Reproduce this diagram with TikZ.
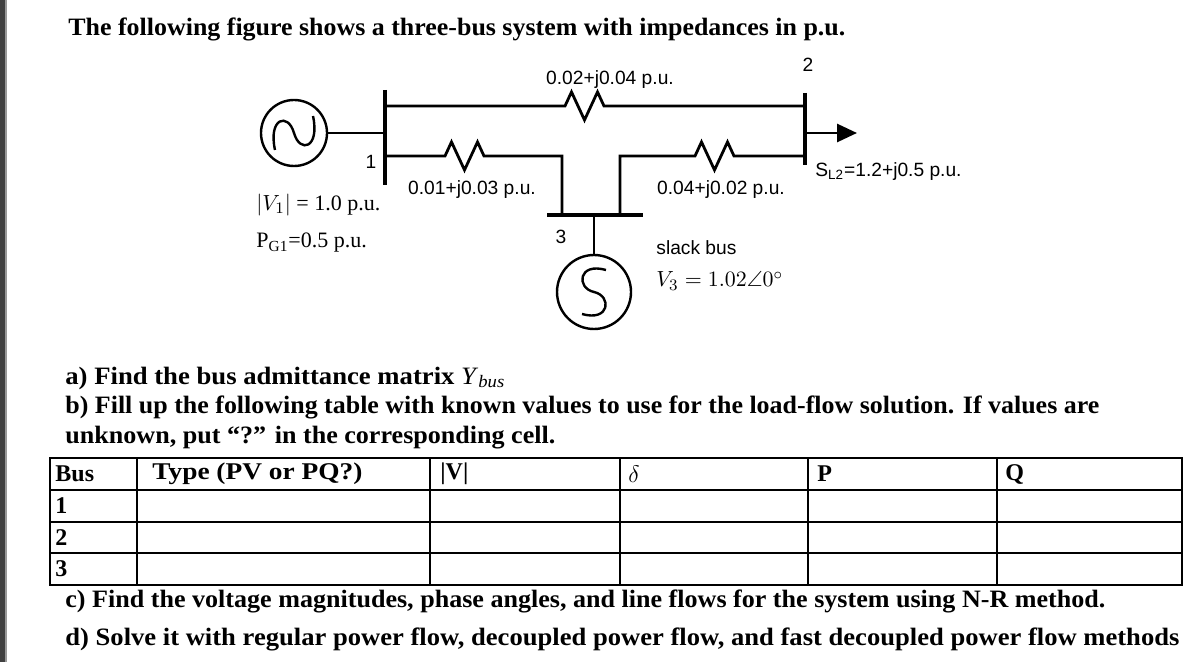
\documentclass[tikz,border=0pt]{standalone}
\usepackage{fontspec}
\usepackage{amssymb}
\setmainfont{Liberation Serif}
\setsansfont{Liberation Sans}
\usetikzlibrary{decorations.pathmorphing,arrows.meta}
\newcommand{\fitw}[2]{\resizebox{#1}{\height}{#2}}
\begin{document}
\begin{tikzpicture}[x=0.5pt,y=-0.5pt,
  wire/.style={line width=1.4pt},
  busbar/.style={line width=1.9pt},
  res/.style={decorate,decoration={zigzag,segment length=13,amplitude=7}},
  lbl/.style={font=\sffamily\fontsize{9.6}{11}\selectfont,inner sep=0pt},
  srf/.style={font=\fontsize{11}{13}\selectfont,inner sep=0pt},
  bt/.style={font=\bfseries\fontsize{12.5}{14}\selectfont,inner sep=0pt,anchor=base west},
  tb/.style={font=\bfseries\fontsize{12}{14}\selectfont,inner sep=0pt,anchor=west}]
\useasboundingbox (0,0) rectangle (1197,662);
\fill[white] (0,0) rectangle (1197,662);
\fill[black!75] (0,0) rectangle (5,662);
\fill[black!40] (5,0) rectangle (7,662);
% title
\node[bt] (title) at (68,36) {\fitw{388.5pt}{The following figure shows a three-bus system with impedances in p.u.}};
% generator 1
\node[draw,circle,line width=1.2pt,minimum size=33pt,inner sep=0pt] (g1) at (294,133) {};
\draw[line width=1.2pt] (275,150) .. controls (268,118) and (288,112) .. (294,133) .. controls (300,154) and (320,148) .. (313,116);
% buses
\coordinate (b1t) at (385,90); \coordinate (b1b) at (385,185);
\draw[busbar] (b1t) -- (b1b);
\coordinate (b2t) at (805,93); \coordinate (b2b) at (805,165);
\draw[busbar] (b2t) -- (b2b);
\coordinate (b3l) at (547,215); \coordinate (b3r) at (643,215);
\draw[busbar] (b3l) -- (b3r);
\draw[wire] (g1.east) -- (g1.east -| b1t);
% top line
\draw[wire] (385,106) -- (565,106) decorate[res]{-- (604,106)} -- (805,106);
% line 1-3
\draw[wire] (385,156) -- (445,156) decorate[res]{-- (484,156)} -- (562,156) -- (562,215);
% line 3-2
\draw[wire] (620,215) -- (620,156) -- (695,156) decorate[res]{-- (734,156)} -- (805,156);
% load arrow
\draw[wire,-{Triangle[length=10pt,width=9pt]}] (805,133) -- (857,133);
% generator 3
\node[draw,circle,line width=1.2pt,minimum size=37pt,inner sep=0pt] (g3) at (594,292) {};
\draw[wire] (594,215) -- (g3.north);
\draw[line width=1.2pt] (606,270) .. controls (578,262) and (576,288) .. (594,292) .. controls (612,296) and (610,322) .. (582,314);
% labels
\node[lbl] (l12) at (610,80) {0.02+j0.04 p.u.};
\node[lbl] (n2) at (808,65) {2};
\node[lbl] (n1) at (371,162) {1};
\node[lbl] (l13) at (472,190) {0.01+j0.03 p.u.};
\node[lbl] (l23) at (721,190) {0.04+j0.02 p.u.};
\node[lbl] (n3) at (561,237) {3};
\node[lbl,anchor=west] (sl) at (656,248) {slack bus};
\node[lbl,anchor=west] (sl2) at (815,172) {S\textsubscript{L2}=1.2+j0.5 p.u.};
\node[srf,anchor=west] (v1) at (256,205) {$|V_1|$ = 1.0 p.u.};
\node[srf,anchor=west] (pg) at (256,243) {P\textsubscript{G1}=0.5 p.u.};
\node[srf,anchor=west] (v3) at (656,281) {$V_3 = 1.02\angle 0^\circ$};
% questions
\node[bt] (qa) at (65,384) {\fitw{220pt}{a) Find the bus admittance matrix \textit{\textmd{Y}}\textsubscript{\textit{\textmd{bus}}}}};
\node[bt] (qb) at (65,413) {\fitw{517pt}{b) Fill up the following table with known values to use for the load-flow solution. If values are}};
\node[bt] (qb2) at (65,443) {\fitw{245pt}{unknown, put “?” in the corresponding cell.}};
% table
\draw[line width=0.8pt] (50,458) rectangle (1182,585);
\foreach \y in {490,522,553} \draw[line width=0.8pt] (50,\y) -- (1182,\y);
\foreach \x in {137,430,620,808,997} \draw[line width=0.6pt] (\x,458) -- (\x,585);
\node[tb] (h1) at (55,474) {Bus};
\node[tb] (h2) at (152,474) {\fitw{105pt}{Type (PV or PQ?)}};
\node[tb] (h3) at (440,474) {|V|};
\node[tb] (h4) at (628,474) {$\delta$};
\node[tb] (h5) at (817,474) {P};
\node[tb] (h6) at (1005,474) {Q};
\node[tb] (r1) at (55,506) {1};
\node[tb] (r2) at (55,538) {2};
\node[tb] (r3) at (55,569) {3};
\node[bt] (qc) at (65,607) {\fitw{520pt}{c) Find the voltage magnitudes, phase angles, and line flows for the system using N-R method.}};
\node[bt] (qd) at (65,645) {\fitw{557pt}{d) Solve it with regular power flow, decoupled power flow, and fast decoupled power flow methods}};
\end{tikzpicture}
\end{document}
